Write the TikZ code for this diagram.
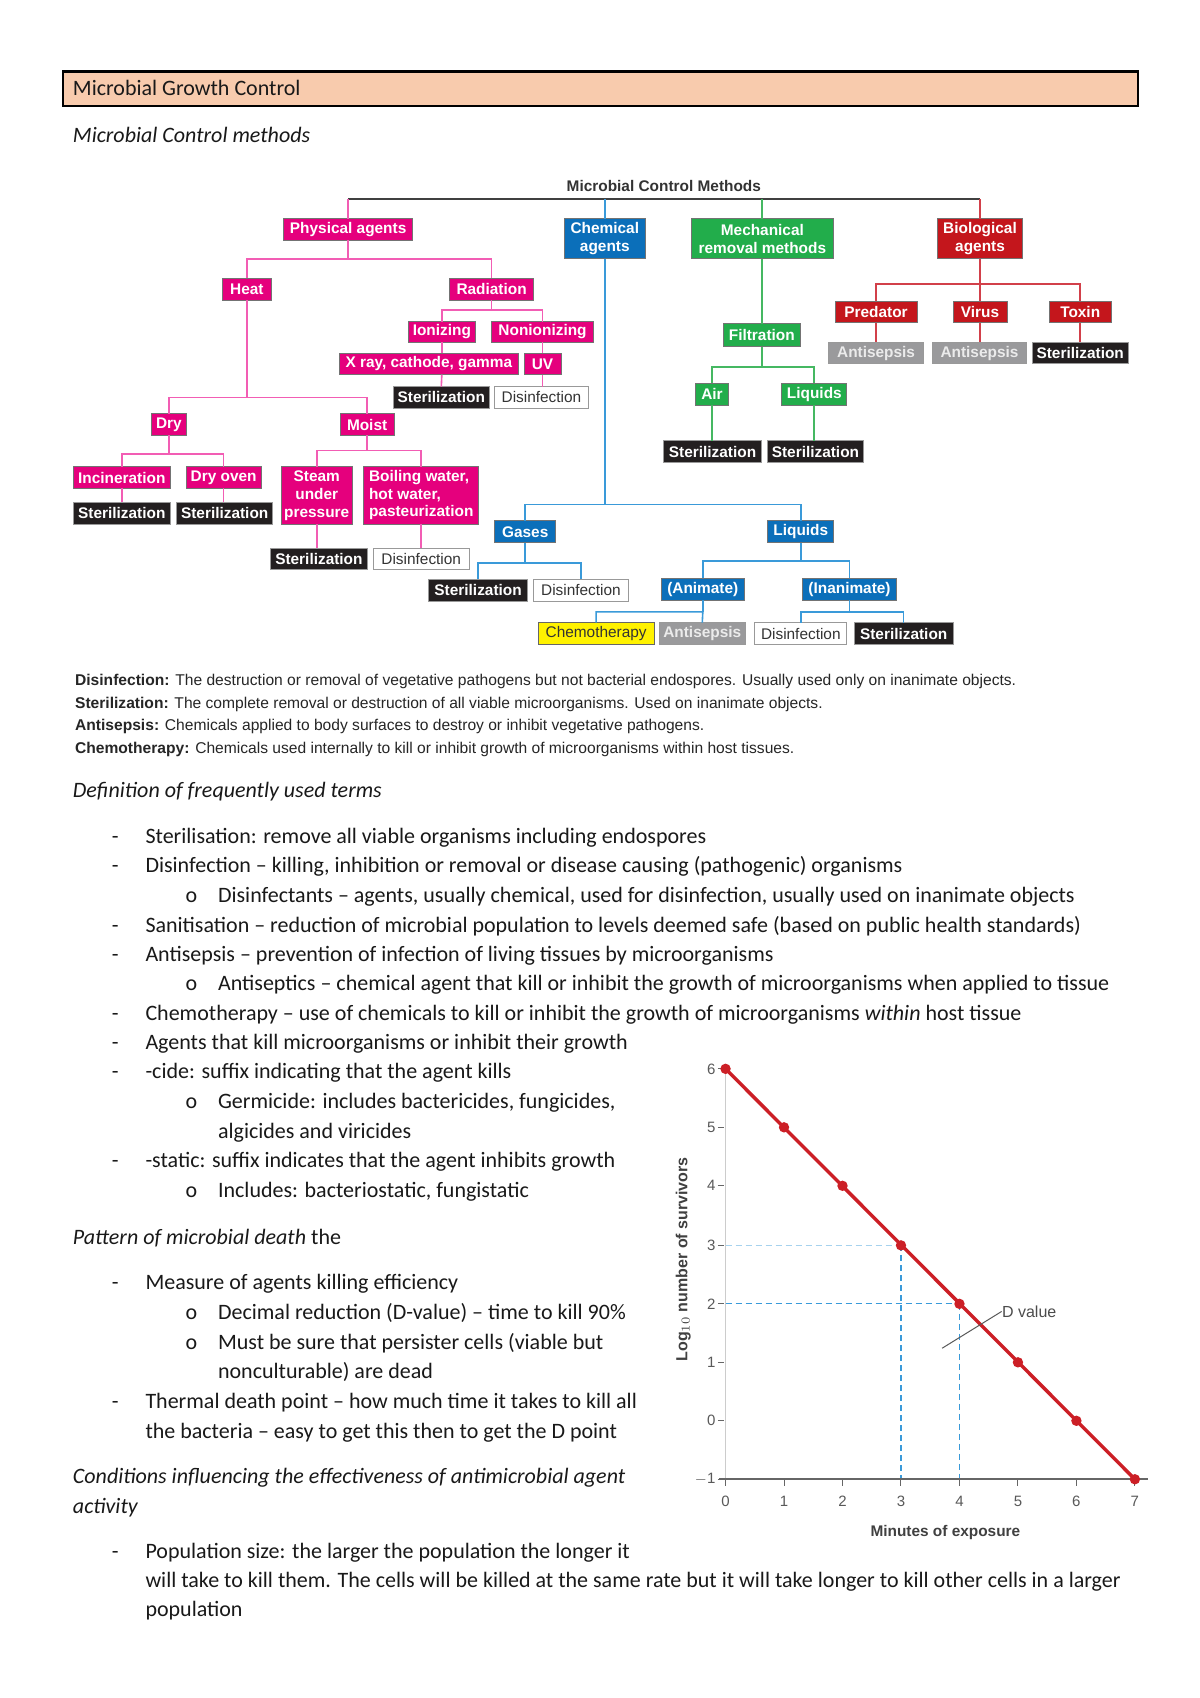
\documentclass[tikz,border=0pt]{standalone}
\usepackage{fontspec}
\setmainfont{Carlito}
\newfontfamily\arial{Liberation Sans}
\definecolor{pk}{HTML}{E5007D}
\definecolor{pkl}{HTML}{F25DB4}
\definecolor{bl}{HTML}{0B6FBA}
\definecolor{bll}{HTML}{3A9AD9}
\definecolor{gr}{HTML}{22AD4B}
\definecolor{grl}{HTML}{45B862}
\definecolor{rd}{HTML}{C4161C}
\definecolor{rdl}{HTML}{D2404A}
\definecolor{gy}{HTML}{9A9A9C}
\definecolor{bk}{HTML}{231F20}
\definecolor{yl}{HTML}{FFF200}
\definecolor{peach}{HTML}{F8CBAD}
\definecolor{gred}{HTML}{CC1F26}
\newcommand\bxx[7]{\node[#6, minimum width={(#4-#2)*0.5415pt}, minimum height={(#5-#3)*0.5415pt}] (#1) at ({(#2+#4)/2},{(#3+#5)/2}) {#7};}
\begin{document}
\begin{tikzpicture}[x=0.5415pt,y=-0.5415pt,
  base/.style={rectangle, inner sep=0pt, outer sep=0pt, align=center, line width=0.4pt, font=\arial\bfseries\fontsize{7.7}{8.9}\selectfont},
  pbox/.style={base, fill=pk, draw=black!55, text=white},
  cbox/.style={base, fill=bl, draw=black!55, text=white},
  mbox/.style={base, fill=gr, draw=black!55, text=white},
  rbox/.style={base, fill=rd, draw=black!55, text=white},
  kbox/.style={base, fill=bk, draw=black!40, text=white},
  gbox/.style={base, fill=gy, draw=black!40, text=black!8},
  wbox/.style={base, fill=white, draw=black!40, text=black!80, font=\arial\fontsize{7.7}{8.9}\selectfont},
  ybox/.style={base, fill=yl, draw=black!60, text=black!80, font=\arial\fontsize{7.7}{8.9}\selectfont},
  pl/.style={pkl, line width=0.8pt},
  cl/.style={bll, line width=0.8pt},
  ml/.style={grl, line width=0.9pt},
  rl/.style={rdl, line width=0.8pt},
  body/.style={anchor=base west, inner sep=0pt, text=black!90, font=\fontsize{11}{13}\selectfont},
  defs/.style={anchor=base west, inner sep=0pt, text=black!85, font=\arial\fontsize{7.8}{9}\selectfont},
  tick/.style={inner sep=0pt, text=black!65, font=\arial\fontsize{7.5}{9}\selectfont},
  dsh/.style={dashed, dash pattern=on 3pt off 2pt, line width=0.6pt}
]
\useasboundingbox (0,0) rectangle (1108,1568);
\fill[white] (0,0) rectangle (1108,1568);

% header
\draw[fill=peach, line width=1.3pt] (58,66) rectangle (1051,98);
\node[body] (hdr) at (67,88) {Microbial Growth Control};
\node[body, font=\itshape\fontsize{11}{13}\selectfont] (sub1) at (67,132) {Microbial Control methods};

% ===== diagram =====
\node[inner sep=0pt, font=\arial\bfseries\fontsize{7.7}{9}\selectfont, text=black!80] (title) at (613,172) {Microbial Control Methods};

\bxx{phys}{262}{202}{381}{222}{pbox}{Physical agents}
\bxx{chem}{521}{202}{596}{239}{cbox}{Chemical\\agents}
\bxx{mech}{638}{202}{770}{239}{mbox}{Mechanical\\removal methods}
\bxx{bio}{866}{202}{944}{239}{rbox}{Biological\\agents}

\bxx{heat}{205}{257}{251}{277}{pbox}{Heat}
\bxx{rad}{415}{257}{493}{277}{pbox}{Radiation}
\bxx{ion}{377}{297}{439}{316}{pbox}{Ionizing}
\bxx{nonion}{454}{297}{548}{316}{pbox}{Nonionizing}
\bxx{xray}{313}{326}{479}{346}{pbox}{X ray, cathode, gamma}
\bxx{uv}{484}{326}{518}{346}{pbox}{UV}
\bxx{ster1}{363}{357}{452}{377}{kbox}{Sterilization}
\bxx{dis1}{457}{357}{543}{377}{wbox}{Disinfection}

\bxx{dry}{140}{382}{172}{402}{pbox}{Dry}
\bxx{moist}{314}{382}{364}{402}{pbox}{Moist}
\bxx{incin}{68}{431}{157}{451}{pbox}{Incineration}
\bxx{dryov}{172}{431}{241}{451}{pbox}{Dry oven}
\bxx{sterA}{68}{464}{157}{484}{kbox}{Sterilization}
\bxx{sterB}{163}{464}{252}{484}{kbox}{Sterilization}
\bxx{steam}{260}{431}{325}{484}{pbox}{Steam\\under\\pressure}
\bxx{boil}{336}{431}{442}{484}{pbox}{\begin{tabular}{@{}l@{}}Boiling water,\\hot water,\\pasteurization\end{tabular}}
\bxx{sterC}{250}{506}{339}{526}{kbox}{Sterilization}
\bxx{disC}{345}{506}{433}{526}{wbox}{Disinfection}

\bxx{gases}{457}{481}{513}{501}{cbox}{Gases}
\bxx{liqC}{709}{481}{770}{501}{cbox}{Liquids}
\bxx{sterD}{396}{535}{487}{555}{kbox}{Sterilization}
\bxx{disD}{493}{535}{580}{555}{wbox}{Disinfection}
\bxx{anim}{611}{534}{687}{554}{cbox}{(Animate)}
\bxx{inan}{741}{534}{828}{554}{cbox}{(Inanimate)}
\bxx{chemo}{497}{575}{604}{595}{ybox}{Chemotherapy}
\bxx{antiC}{609}{575}{688}{595}{gbox}{Antisepsis}
\bxx{disE}{697}{575}{782}{595}{wbox}{Disinfection}
\bxx{sterE}{789}{575}{880}{595}{kbox}{Sterilization}

\bxx{filt}{668}{299}{739}{320}{mbox}{Filtration}
\bxx{air}{642}{354}{673}{374}{mbox}{Air}
\bxx{liqM}{722}{354}{782}{374}{mbox}{Liquids}
\bxx{sterF}{613}{407}{703}{427}{kbox}{Sterilization}
\bxx{sterG}{709}{407}{797}{427}{kbox}{Sterilization}

\bxx{pred}{771}{278}{847}{298}{rbox}{Predator}
\bxx{virus}{880}{278}{930}{298}{rbox}{Virus}
\bxx{toxin}{969}{278}{1026}{298}{rbox}{Toxin}
\bxx{antiP}{765}{316}{853}{336}{gbox}{Antisepsis}
\bxx{antiV}{861}{316}{948}{336}{gbox}{Antisepsis}
\bxx{sterT}{953}{316}{1042}{336}{kbox}{Sterilization}

% connectors
\coordinate (topj) at (558.5,184);
\draw[black!75, line width=0.8pt] (phys.north |- topj) -- (bio.north |- topj);
\draw[pl] (phys.north |- topj) -- (phys.north);
\draw[cl] (chem.north |- topj) -- (chem.north);
\draw[ml] (mech.north |- topj) -- (mech.north);
\draw[rl] (bio.north |- topj) -- (bio.north);

\coordinate (pj) at (321.5,239);
\draw[pl] (phys.south) -- (pj);
\draw[pl] (heat.north) |- (pj) -| (rad.north);
\coordinate (rj) at (454,286);
\draw[pl] (rad.south) -- (rj);
\draw[pl] (ion.north) |- (rj) -| (nonion.north);
\draw[pl] (ion.south) -- (ion.south |- xray.north);
\draw[pl] (ion.south |- xray.south) -- (ster1.north);
\draw[pl] (nonion.south) -- (uv.north);
\draw[pl] (uv.south) -- (uv.south |- dis1.north);

\coordinate (hj) at (228,367);
\draw[pl] (heat.south) -- (hj);
\draw[pl] (dry.north) |- (hj) -| (moist.north);
\coordinate (dj) at (156,419);
\draw[pl] (dry.south) -- (dj);
\draw[pl] (incin.north) |- (dj) -| (dryov.north);
\draw[pl] (incin.south) -- (sterA.north);
\draw[pl] (dryov.south) -- (dryov.south |- sterB.north);
\coordinate (mj) at (339,416);
\draw[pl] (moist.south) -- (mj);
\draw[pl] (steam.north) |- (mj) -| (boil.north);
\draw[pl] (steam.south) -- (steam.south |- sterC.north);
\draw[pl] (boil.south) -- (disC.north);

\coordinate (cj) at (558.5,466);
\draw[cl] (chem.south) -- (cj);
\draw[cl] (gases.north) |- (cj) -| (liqC.north);
\coordinate (gj) at (485,520);
\draw[cl] (gases.south) -- (gj);
\draw[cl] (sterD.north) |- (gj) -| (disD.north);
\coordinate (lj) at (739.5,518);
\draw[cl] (liqC.south) -- (lj);
\draw[cl] (anim.north) |- (lj) -| (inan.north);
\coordinate (aj) at (649,565);
\draw[cl] (anim.south) -- (aj);
\draw[cl] (chemo.north) |- (aj) -- (antiC.north);
\coordinate (ij) at (784.5,565);
\draw[cl] (inan.south) -- (ij);
\draw[cl] (disE.north) |- (ij) -| (sterE.north);

\draw[ml] (mech.south) -- (mech.south |- filt.north);
\coordinate (fj) at (704,339);
\draw[ml] (filt.south) -- (filt.south |- fj);
\draw[ml] (air.north) |- (fj) -| (liqM.north);
\draw[ml] (air.south) -- (air.south |- sterF.north);
\draw[ml] (liqM.south) -- (liqM.south |- sterG.north);

\coordinate (bj) at (905,262);
\draw[rl] (bio.south) -- (bj);
\draw[rl] (pred.north) |- (bj) -| (toxin.north);
\draw[rl] (bj) -- (virus.north);
\draw[rl] (pred.south) -- (antiP.north);
\draw[rl] (virus.south) -- (virus.south |- antiV.north);
\draw[rl] (toxin.south) -- (toxin.south |- sterT.north);

% definitions
\node[defs] (d1) at (69,633) {\textbf{Disinfection:} The destruction or removal of vegetative pathogens but not bacterial endospores. Usually used only on inanimate objects.};
\node[defs] (d2) at (69,654) {\textbf{Sterilization:} The complete removal or destruction of all viable microorganisms. Used on inanimate objects.};
\node[defs] (d3) at (69,675) {\textbf{Antisepsis:} Chemicals applied to body surfaces to destroy or inhibit vegetative pathogens.};
\node[defs] (d4) at (69,696) {\textbf{Chemotherapy:} Chemicals used internally to kill or inhibit growth of microorganisms within host tissues.};

% ===== body text =====
\node[body, font=\itshape\fontsize{11}{13}\selectfont] (s2) at (67,736) {Definition of frequently used terms};
\foreach \yy/\nm in {779/a1,806/a2,861/a4,888/a5,942/a7,969/a8,996/a9,1078/a12,1191/b1,1301/b4,1439/c1}{
  \node[body] (dash\nm) at (103,\yy) {-};
}
\foreach \yy/\nm in {833/a3,915/a6,1024/a10,1106/a13,1218/b2,1246/b3}{
  \node[body] (o\nm) at (171,\yy) {o};
}
\node[body] (a1) at (134,779) {Sterilisation: remove all viable organisms including endospores};
\node[body] (a2) at (134,806) {Disinfection – killing, inhibition or removal or disease causing (pathogenic) organisms};
\node[body] (a3) at (201,833) {Disinfectants – agents, usually chemical, used for disinfection, usually used on inanimate objects};
\node[body] (a4) at (134,861) {Sanitisation – reduction of microbial population to levels deemed safe (based on public health standards)};
\node[body] (a5) at (134,888) {Antisepsis – prevention of infection of living tissues by microorganisms};
\node[body] (a6) at (201,915) {Antiseptics – chemical agent that kill or inhibit the growth of microorganisms when applied to tissue};
\node[body] (a7) at (134,942) {Chemotherapy – use of chemicals to kill or inhibit the growth of microorganisms \textit{within} host tissue};
\node[body] (a8) at (134,969) {Agents that kill microorganisms or inhibit their growth};
\node[body] (a9) at (134,996) {-cide: suffix indicating that the agent kills};
\node[body] (a10) at (201,1024) {Germicide: includes bactericides, fungicides,};
\node[body] (a11) at (201,1051) {algicides and viricides};
\node[body] (a12) at (134,1078) {-static: suffix indicates that the agent inhibits growth};
\node[body] (a13) at (201,1106) {Includes: bacteriostatic, fungistatic};

\node[body] (s3) at (67,1149) {\textit{Pattern of microbial death} the};
\node[body] (b1) at (134,1191) {Measure of agents killing efficiency};
\node[body] (b2) at (201,1218) {Decimal reduction (D-value) – time to kill 90\%};
\node[body] (b3) at (201,1246) {Must be sure that persister cells (viable but};
\node[body] (b3b) at (201,1273) {nonculturable) are dead};
\node[body] (b4) at (134,1301) {Thermal death point – how much time it takes to kill all};
\node[body] (b4b) at (134,1328) {the bacteria – easy to get this then to get the D point};

\node[body, font=\itshape\fontsize{11}{13}\selectfont] (s4) at (67,1370) {Conditions influencing the effectiveness of antimicrobial agent};
\node[body, font=\itshape\fontsize{11}{13}\selectfont] (s4b) at (67,1398) {activity};
\node[body] (c1) at (134,1439) {Population size: the larger the population the longer it};
\node[body] (c1b) at (134,1466) {will take to kill them. The cells will be killed at the same rate but it will take longer to kill other cells in a larger};
\node[body] (c1c) at (134,1493) {population};

% ===== graph =====
\draw[black!20, line width=0.6pt] (670,984) -- (670,1366);
\draw[bll!45, dsh] (670,1150) -- (832,1150);
\draw[bll, dsh] (670,1204) -- (886,1204);
\draw[bll, dsh] (832,1150) -- (832,1366);
\draw[bll, dsh] (886,1204) -- (886,1366);
\draw[black!60, line width=1pt] (664,1366) -- (1060,1366);
\foreach \xx/\lab in {670/0,724/1,778/2,832/3,886/4,940/5,994/6,1048/7}{
  \draw[black!60, line width=0.5pt] (\xx,1366) -- (\xx,1372);
  \node[tick] (xt\lab) at (\xx,1386) {\lab};
}
\foreach \yy/\lab/\nm in {987/6/y6,1041/5/y5,1095/4/y4,1150/3/y3,1204/2/y2,1258/1/y1,1312/0/y0,1366/{$-$1}/ym}{
  \draw[black!60, line width=0.5pt] (663,\yy) -- (669,\yy);
  \node[tick, anchor=east] (\nm) at (661,\yy) {\lab};
}
\draw[gred, line width=1.7pt] (670,987) -- (1048,1366);
\foreach \xx/\yy in {670/987,724/1041,778/1095,832/1150,886/1204,940/1258,994/1312,1048/1366}{
  \fill[gred] (\xx,\yy) circle (2.6pt);
}
\coordinate (dv1) at (870,1245);
\node[tick, anchor=west, text=black!70, font=\arial\fontsize{8}{9}\selectfont] (dval) at (925,1211) {D value};
\draw[black!65, line width=0.5pt] (dv1) -- (dval.west);
\node[tick, rotate=90, text=black!75, font=\arial\bfseries\fontsize{8}{9}\selectfont] (ylab) at (631,1163) {Log$_{10}$ number of survivors};
\node[tick, text=black!75, font=\arial\bfseries\fontsize{7.7}{9}\selectfont] (xlab) at (873,1415) {Minutes of exposure};
\end{tikzpicture}
\end{document}
